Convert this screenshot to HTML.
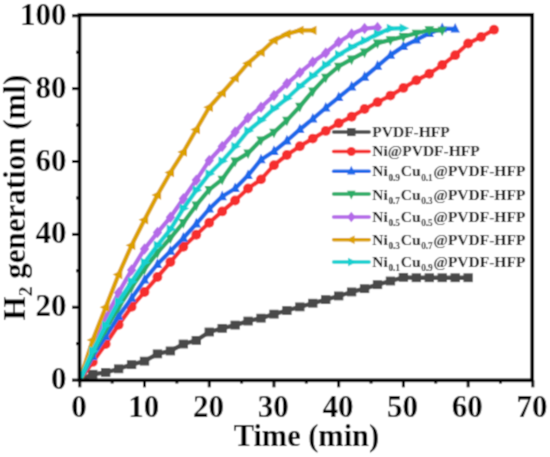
<!DOCTYPE html>
<html><head><meta charset="utf-8"><style>
html,body{margin:0;padding:0;background:#fff;width:550px;height:457px;overflow:hidden}
svg{display:block}
text{font-family:"Liberation Serif","Times New Roman",serif;font-weight:bold;fill:#000}
.tk{font-size:31px}
.ti{font-size:30px}
.ts{font-size:19.5px}
.yl{font-size:31px}
.lg{font-size:15.5px}
.sb{font-size:9.3px}
</style></head><body>
<svg width="550" height="457" viewBox="0 0 550 457">
<defs><filter id="soft" x="0" y="0" width="550" height="457" filterUnits="userSpaceOnUse"><feConvolveMatrix order="3" kernelMatrix="0.04 0.12 0.04 0.12 0.36 0.12 0.04 0.12 0.04" divisor="1" edgeMode="duplicate"/></filter></defs>
<g filter="url(#soft)">
<rect width="550" height="457" fill="#fff"/>
<defs><clipPath id="pc"><rect x="79.5" y="14.9" width="452.5" height="365.2"/></clipPath></defs>
<g clip-path="url(#pc)"><g fill="#4a4a4a">
<polyline points="79.80,380.10 92.74,374.27 105.69,372.45 118.63,368.81 131.58,364.62 144.52,361.16 157.46,353.87 170.41,350.96 183.35,344.03 196.30,340.39 209.24,332.01 222.18,328.37 235.13,325.09 248.07,321.08 261.02,318.17 273.96,314.16 286.90,310.52 299.85,306.88 312.79,303.23 325.74,299.59 338.68,295.95 351.62,291.94 364.57,288.66 377.51,284.65 390.46,281.01 403.40,277.37 416.34,277.73 429.29,277.73 442.23,277.73 455.18,277.73 468.12,277.73" fill="none" stroke="#4a4a4a" stroke-width="4.3" stroke-linejoin="round" stroke-linecap="round"/>
<rect x="75.12" y="375.68" width="9.36" height="8.84"/>
<rect x="88.06" y="369.85" width="9.36" height="8.84"/>
<rect x="101.01" y="368.03" width="9.36" height="8.84"/>
<rect x="113.95" y="364.39" width="9.36" height="8.84"/>
<rect x="126.90" y="360.20" width="9.36" height="8.84"/>
<rect x="139.84" y="356.74" width="9.36" height="8.84"/>
<rect x="152.78" y="349.45" width="9.36" height="8.84"/>
<rect x="165.73" y="346.54" width="9.36" height="8.84"/>
<rect x="178.67" y="339.61" width="9.36" height="8.84"/>
<rect x="191.62" y="335.97" width="9.36" height="8.84"/>
<rect x="204.56" y="327.59" width="9.36" height="8.84"/>
<rect x="217.50" y="323.95" width="9.36" height="8.84"/>
<rect x="230.45" y="320.67" width="9.36" height="8.84"/>
<rect x="243.39" y="316.66" width="9.36" height="8.84"/>
<rect x="256.34" y="313.75" width="9.36" height="8.84"/>
<rect x="269.28" y="309.74" width="9.36" height="8.84"/>
<rect x="282.22" y="306.10" width="9.36" height="8.84"/>
<rect x="295.17" y="302.46" width="9.36" height="8.84"/>
<rect x="308.11" y="298.81" width="9.36" height="8.84"/>
<rect x="321.06" y="295.17" width="9.36" height="8.84"/>
<rect x="334.00" y="291.53" width="9.36" height="8.84"/>
<rect x="346.94" y="287.52" width="9.36" height="8.84"/>
<rect x="359.89" y="284.24" width="9.36" height="8.84"/>
<rect x="372.83" y="280.23" width="9.36" height="8.84"/>
<rect x="385.78" y="276.59" width="9.36" height="8.84"/>
<rect x="398.72" y="272.95" width="9.36" height="8.84"/>
<rect x="411.66" y="273.31" width="9.36" height="8.84"/>
<rect x="424.61" y="273.31" width="9.36" height="8.84"/>
<rect x="437.55" y="273.31" width="9.36" height="8.84"/>
<rect x="450.50" y="273.31" width="9.36" height="8.84"/>
<rect x="463.44" y="273.31" width="9.36" height="8.84"/>
</g>
<g fill="#f62f2f">
<polyline points="79.80,380.10 92.74,361.89 105.69,344.03 118.63,324.73 131.58,306.88 144.52,291.94 157.46,277.00 170.41,262.07 183.35,246.77 196.30,234.74 209.24,222.72 222.18,211.43 235.13,200.50 248.07,188.48 261.02,179.37 273.96,165.16 286.90,154.96 299.85,146.22 312.79,138.57 325.74,130.92 338.68,123.27 351.62,116.71 364.57,109.06 377.51,102.14 390.46,95.58 403.40,87.93 416.34,80.28 429.29,73.72 442.23,64.98 455.18,55.14 468.12,43.49 481.06,36.93 494.01,29.64" fill="none" stroke="#f62f2f" stroke-width="4.3" stroke-linejoin="round" stroke-linecap="round"/>
<circle cx="79.80" cy="380.10" r="4.94"/>
<circle cx="92.74" cy="361.89" r="4.94"/>
<circle cx="105.69" cy="344.03" r="4.94"/>
<circle cx="118.63" cy="324.73" r="4.94"/>
<circle cx="131.58" cy="306.88" r="4.94"/>
<circle cx="144.52" cy="291.94" r="4.94"/>
<circle cx="157.46" cy="277.00" r="4.94"/>
<circle cx="170.41" cy="262.07" r="4.94"/>
<circle cx="183.35" cy="246.77" r="4.94"/>
<circle cx="196.30" cy="234.74" r="4.94"/>
<circle cx="209.24" cy="222.72" r="4.94"/>
<circle cx="222.18" cy="211.43" r="4.94"/>
<circle cx="235.13" cy="200.50" r="4.94"/>
<circle cx="248.07" cy="188.48" r="4.94"/>
<circle cx="261.02" cy="179.37" r="4.94"/>
<circle cx="273.96" cy="165.16" r="4.94"/>
<circle cx="286.90" cy="154.96" r="4.94"/>
<circle cx="299.85" cy="146.22" r="4.94"/>
<circle cx="312.79" cy="138.57" r="4.94"/>
<circle cx="325.74" cy="130.92" r="4.94"/>
<circle cx="338.68" cy="123.27" r="4.94"/>
<circle cx="351.62" cy="116.71" r="4.94"/>
<circle cx="364.57" cy="109.06" r="4.94"/>
<circle cx="377.51" cy="102.14" r="4.94"/>
<circle cx="390.46" cy="95.58" r="4.94"/>
<circle cx="403.40" cy="87.93" r="4.94"/>
<circle cx="416.34" cy="80.28" r="4.94"/>
<circle cx="429.29" cy="73.72" r="4.94"/>
<circle cx="442.23" cy="64.98" r="4.94"/>
<circle cx="455.18" cy="55.14" r="4.94"/>
<circle cx="468.12" cy="43.49" r="4.94"/>
<circle cx="481.06" cy="36.93" r="4.94"/>
<circle cx="494.01" cy="29.64" r="4.94"/>
</g>
<g fill="#1a68ea">
<polyline points="79.80,380.10 92.74,356.42 105.69,336.38 118.63,316.35 131.58,298.13 144.52,279.92 157.46,264.25 170.41,251.14 183.35,238.02 196.30,223.82 209.24,208.88 222.18,196.49 235.13,188.48 248.07,175.36 261.02,159.70 273.96,151.32 286.90,140.75 299.85,129.46 312.79,118.90 325.74,107.97 338.68,97.40 351.62,86.84 364.57,77.00 377.51,66.07 390.46,55.14 403.40,46.40 416.34,39.84 429.29,33.29 442.23,28.55 455.18,28.91" fill="none" stroke="#1a68ea" stroke-width="4.3" stroke-linejoin="round" stroke-linecap="round"/>
<polygon points="79.80,374.12 84.48,383.74 75.12,383.74"/>
<polygon points="92.74,350.44 97.42,360.06 88.06,360.06"/>
<polygon points="105.69,330.40 110.37,340.02 101.01,340.02"/>
<polygon points="118.63,310.37 123.31,319.99 113.95,319.99"/>
<polygon points="131.58,292.15 136.26,301.77 126.90,301.77"/>
<polygon points="144.52,273.94 149.20,283.56 139.84,283.56"/>
<polygon points="157.46,258.27 162.14,267.89 152.78,267.89"/>
<polygon points="170.41,245.16 175.09,254.78 165.73,254.78"/>
<polygon points="183.35,232.04 188.03,241.66 178.67,241.66"/>
<polygon points="196.30,217.84 200.98,227.46 191.62,227.46"/>
<polygon points="209.24,202.90 213.92,212.52 204.56,212.52"/>
<polygon points="222.18,190.51 226.86,200.13 217.50,200.13"/>
<polygon points="235.13,182.50 239.81,192.12 230.45,192.12"/>
<polygon points="248.07,169.38 252.75,179.00 243.39,179.00"/>
<polygon points="261.02,153.72 265.70,163.34 256.34,163.34"/>
<polygon points="273.96,145.34 278.64,154.96 269.28,154.96"/>
<polygon points="286.90,134.77 291.58,144.39 282.22,144.39"/>
<polygon points="299.85,123.48 304.53,133.10 295.17,133.10"/>
<polygon points="312.79,112.92 317.47,122.54 308.11,122.54"/>
<polygon points="325.74,101.99 330.42,111.61 321.06,111.61"/>
<polygon points="338.68,91.42 343.36,101.04 334.00,101.04"/>
<polygon points="351.62,80.86 356.30,90.48 346.94,90.48"/>
<polygon points="364.57,71.02 369.25,80.64 359.89,80.64"/>
<polygon points="377.51,60.09 382.19,69.71 372.83,69.71"/>
<polygon points="390.46,49.16 395.14,58.78 385.78,58.78"/>
<polygon points="403.40,40.42 408.08,50.04 398.72,50.04"/>
<polygon points="416.34,33.86 421.02,43.48 411.66,43.48"/>
<polygon points="429.29,27.31 433.97,36.93 424.61,36.93"/>
<polygon points="442.23,22.57 446.91,32.19 437.55,32.19"/>
<polygon points="455.18,22.93 459.86,32.55 450.50,32.55"/>
</g>
<g fill="#2aac66">
<polyline points="79.80,380.10 92.74,352.78 105.69,329.10 118.63,307.24 131.58,287.20 144.52,268.99 157.46,252.60 170.41,238.02 183.35,222.72 196.30,205.24 209.24,189.57 222.18,179.37 235.13,161.16 248.07,153.14 261.02,140.03 273.96,132.38 286.90,120.35 299.85,106.51 312.79,91.21 325.74,77.37 338.68,66.44 351.62,59.15 364.57,52.23 377.51,43.12 390.46,39.84 403.40,36.57 416.34,33.29 429.29,30.01 442.23,30.37" fill="none" stroke="#2aac66" stroke-width="4.3" stroke-linejoin="round" stroke-linecap="round"/>
<polygon points="79.80,386.08 84.48,376.46 75.12,376.46"/>
<polygon points="92.74,358.76 97.42,349.14 88.06,349.14"/>
<polygon points="105.69,335.08 110.37,325.46 101.01,325.46"/>
<polygon points="118.63,313.22 123.31,303.60 113.95,303.60"/>
<polygon points="131.58,293.18 136.26,283.56 126.90,283.56"/>
<polygon points="144.52,274.97 149.20,265.35 139.84,265.35"/>
<polygon points="157.46,258.58 162.14,248.96 152.78,248.96"/>
<polygon points="170.41,244.00 175.09,234.38 165.73,234.38"/>
<polygon points="183.35,228.70 188.03,219.08 178.67,219.08"/>
<polygon points="196.30,211.22 200.98,201.60 191.62,201.60"/>
<polygon points="209.24,195.55 213.92,185.93 204.56,185.93"/>
<polygon points="222.18,185.35 226.86,175.73 217.50,175.73"/>
<polygon points="235.13,167.14 239.81,157.52 230.45,157.52"/>
<polygon points="248.07,159.12 252.75,149.50 243.39,149.50"/>
<polygon points="261.02,146.01 265.70,136.39 256.34,136.39"/>
<polygon points="273.96,138.36 278.64,128.74 269.28,128.74"/>
<polygon points="286.90,126.33 291.58,116.71 282.22,116.71"/>
<polygon points="299.85,112.49 304.53,102.87 295.17,102.87"/>
<polygon points="312.79,97.19 317.47,87.57 308.11,87.57"/>
<polygon points="325.74,83.35 330.42,73.73 321.06,73.73"/>
<polygon points="338.68,72.42 343.36,62.80 334.00,62.80"/>
<polygon points="351.62,65.13 356.30,55.51 346.94,55.51"/>
<polygon points="364.57,58.21 369.25,48.59 359.89,48.59"/>
<polygon points="377.51,49.10 382.19,39.48 372.83,39.48"/>
<polygon points="390.46,45.82 395.14,36.20 385.78,36.20"/>
<polygon points="403.40,42.55 408.08,32.93 398.72,32.93"/>
<polygon points="416.34,39.27 421.02,29.65 411.66,29.65"/>
<polygon points="429.29,35.99 433.97,26.37 424.61,26.37"/>
<polygon points="442.23,36.35 446.91,26.73 437.55,26.73"/>
</g>
<g fill="#b46ae8">
<polyline points="79.80,380.10 92.74,347.31 105.69,318.17 118.63,292.67 131.58,270.08 144.52,248.95 157.46,232.56 170.41,217.26 183.35,198.68 196.30,180.10 209.24,160.43 222.18,146.58 235.13,132.01 248.07,117.80 261.02,107.24 273.96,95.58 286.90,83.56 299.85,72.63 312.79,62.07 325.74,52.96 338.68,42.03 351.62,34.02 364.57,28.55 377.51,27.46" fill="none" stroke="#b46ae8" stroke-width="4.3" stroke-linejoin="round" stroke-linecap="round"/>
<polygon points="79.80,374.38 84.48,380.10 79.80,385.82 75.12,380.10"/>
<polygon points="92.74,341.59 97.42,347.31 92.74,353.03 88.06,347.31"/>
<polygon points="105.69,312.45 110.37,318.17 105.69,323.89 101.01,318.17"/>
<polygon points="118.63,286.95 123.31,292.67 118.63,298.39 113.95,292.67"/>
<polygon points="131.58,264.36 136.26,270.08 131.58,275.80 126.90,270.08"/>
<polygon points="144.52,243.23 149.20,248.95 144.52,254.67 139.84,248.95"/>
<polygon points="157.46,226.84 162.14,232.56 157.46,238.28 152.78,232.56"/>
<polygon points="170.41,211.54 175.09,217.26 170.41,222.98 165.73,217.26"/>
<polygon points="183.35,192.96 188.03,198.68 183.35,204.40 178.67,198.68"/>
<polygon points="196.30,174.38 200.98,180.10 196.30,185.82 191.62,180.10"/>
<polygon points="209.24,154.71 213.92,160.43 209.24,166.15 204.56,160.43"/>
<polygon points="222.18,140.86 226.86,146.58 222.18,152.30 217.50,146.58"/>
<polygon points="235.13,126.29 239.81,132.01 235.13,137.73 230.45,132.01"/>
<polygon points="248.07,112.08 252.75,117.80 248.07,123.52 243.39,117.80"/>
<polygon points="261.02,101.52 265.70,107.24 261.02,112.96 256.34,107.24"/>
<polygon points="273.96,89.86 278.64,95.58 273.96,101.30 269.28,95.58"/>
<polygon points="286.90,77.84 291.58,83.56 286.90,89.28 282.22,83.56"/>
<polygon points="299.85,66.91 304.53,72.63 299.85,78.35 295.17,72.63"/>
<polygon points="312.79,56.35 317.47,62.07 312.79,67.79 308.11,62.07"/>
<polygon points="325.74,47.24 330.42,52.96 325.74,58.68 321.06,52.96"/>
<polygon points="338.68,36.31 343.36,42.03 338.68,47.75 334.00,42.03"/>
<polygon points="351.62,28.30 356.30,34.02 351.62,39.74 346.94,34.02"/>
<polygon points="364.57,22.83 369.25,28.55 364.57,34.27 359.89,28.55"/>
<polygon points="377.51,21.74 382.19,27.46 377.51,33.18 372.83,27.46"/>
</g>
<g fill="#dca000">
<polyline points="79.80,380.10 92.74,340.03 105.69,307.24 118.63,274.45 131.58,245.31 144.52,219.81 157.46,195.04 170.41,172.45 183.35,152.05 196.30,129.46 209.24,107.24 222.18,93.03 235.13,78.10 248.07,63.16 261.02,52.23 273.96,40.21 286.90,34.02 299.85,30.37 312.79,30.37" fill="none" stroke="#dca000" stroke-width="4.3" stroke-linejoin="round" stroke-linecap="round"/>
<polygon points="73.82,380.10 83.44,375.42 83.44,384.78"/>
<polygon points="86.76,340.03 96.38,335.35 96.38,344.71"/>
<polygon points="99.71,307.24 109.33,302.56 109.33,311.92"/>
<polygon points="112.65,274.45 122.27,269.77 122.27,279.13"/>
<polygon points="125.60,245.31 135.22,240.63 135.22,249.99"/>
<polygon points="138.54,219.81 148.16,215.13 148.16,224.49"/>
<polygon points="151.48,195.04 161.10,190.36 161.10,199.72"/>
<polygon points="164.43,172.45 174.05,167.77 174.05,177.13"/>
<polygon points="177.37,152.05 186.99,147.37 186.99,156.73"/>
<polygon points="190.32,129.46 199.94,124.78 199.94,134.14"/>
<polygon points="203.26,107.24 212.88,102.56 212.88,111.92"/>
<polygon points="216.20,93.03 225.82,88.35 225.82,97.71"/>
<polygon points="229.15,78.10 238.77,73.42 238.77,82.78"/>
<polygon points="242.09,63.16 251.71,58.48 251.71,67.84"/>
<polygon points="255.04,52.23 264.66,47.55 264.66,56.91"/>
<polygon points="267.98,40.21 277.60,35.53 277.60,44.89"/>
<polygon points="280.92,34.02 290.54,29.34 290.54,38.70"/>
<polygon points="293.87,30.37 303.49,25.69 303.49,35.05"/>
<polygon points="306.81,30.37 316.43,25.69 316.43,35.05"/>
</g>
<g fill="#12d0d0">
<polyline points="79.80,380.10 92.74,350.96 105.69,325.46 118.63,301.78 131.58,281.74 144.52,262.43 157.46,245.31 170.41,229.28 183.35,208.51 196.30,190.30 209.24,173.91 222.18,161.16 235.13,146.58 248.07,130.92 261.02,120.35 273.96,108.70 286.90,98.50 299.85,86.47 312.79,75.91 325.74,64.98 338.68,54.78 351.62,47.13 364.57,40.57 377.51,34.02 390.46,28.55 403.40,28.19" fill="none" stroke="#12d0d0" stroke-width="4.3" stroke-linejoin="round" stroke-linecap="round"/>
<polygon points="85.78,380.10 76.16,375.42 76.16,384.78"/>
<polygon points="98.72,350.96 89.10,346.28 89.10,355.64"/>
<polygon points="111.67,325.46 102.05,320.78 102.05,330.14"/>
<polygon points="124.61,301.78 114.99,297.10 114.99,306.46"/>
<polygon points="137.56,281.74 127.94,277.06 127.94,286.42"/>
<polygon points="150.50,262.43 140.88,257.75 140.88,267.11"/>
<polygon points="163.44,245.31 153.82,240.63 153.82,249.99"/>
<polygon points="176.39,229.28 166.77,224.60 166.77,233.96"/>
<polygon points="189.33,208.51 179.71,203.83 179.71,213.19"/>
<polygon points="202.28,190.30 192.66,185.62 192.66,194.98"/>
<polygon points="215.22,173.91 205.60,169.23 205.60,178.59"/>
<polygon points="228.16,161.16 218.54,156.48 218.54,165.84"/>
<polygon points="241.11,146.58 231.49,141.90 231.49,151.26"/>
<polygon points="254.05,130.92 244.43,126.24 244.43,135.60"/>
<polygon points="267.00,120.35 257.38,115.67 257.38,125.03"/>
<polygon points="279.94,108.70 270.32,104.02 270.32,113.38"/>
<polygon points="292.88,98.50 283.26,93.82 283.26,103.18"/>
<polygon points="305.83,86.47 296.21,81.79 296.21,91.15"/>
<polygon points="318.77,75.91 309.15,71.23 309.15,80.59"/>
<polygon points="331.72,64.98 322.10,60.30 322.10,69.66"/>
<polygon points="344.66,54.78 335.04,50.10 335.04,59.46"/>
<polygon points="357.60,47.13 347.98,42.45 347.98,51.81"/>
<polygon points="370.55,40.57 360.93,35.89 360.93,45.25"/>
<polygon points="383.49,34.02 373.87,29.34 373.87,38.70"/>
<polygon points="396.44,28.55 386.82,23.87 386.82,33.23"/>
<polygon points="409.38,28.19 399.76,23.51 399.76,32.87"/>
</g></g>
<g fill="#4a4a4a">
<line x1="333.6" y1="132.1" x2="369.2" y2="132.1" stroke="#4a4a4a" stroke-width="3.5" stroke-linecap="round"/>
<rect x="347.07" y="128.10" width="8.46" height="7.99"/>
</g>
<text class="lg" x="372.3" y="136.9">PVDF-HFP</text>
<g fill="#f62f2f">
<line x1="333.6" y1="151.5" x2="369.2" y2="151.5" stroke="#f62f2f" stroke-width="3.5" stroke-linecap="round"/>
<circle cx="351.30" cy="151.50" r="4.46"/>
</g>
<text class="lg" x="372.3" y="156.4">Ni@PVDF-HFP</text>
<g fill="#1a68ea">
<line x1="333.6" y1="171.2" x2="369.2" y2="171.2" stroke="#1a68ea" stroke-width="3.5" stroke-linecap="round"/>
<polygon points="351.30,165.79 355.53,174.49 347.07,174.49"/>
</g>
<text class="lg" x="372.3" y="176.4">Ni<tspan class="sb" dx="0.6" dy="4.2">0.9</tspan><tspan dx="0.7" dy="-4.2">Cu</tspan><tspan class="sb" dx="0.6" dy="4.2">0.1</tspan><tspan dx="0.7" dy="-4.2">@PVDF-HFP</tspan></text>
<g fill="#2aac66">
<line x1="333.6" y1="194.1" x2="369.2" y2="194.1" stroke="#2aac66" stroke-width="3.5" stroke-linecap="round"/>
<polygon points="351.30,199.50 355.53,190.81 347.07,190.81"/>
</g>
<text class="lg" x="372.3" y="199.7">Ni<tspan class="sb" dx="0.6" dy="4.2">0.7</tspan><tspan dx="0.7" dy="-4.2">Cu</tspan><tspan class="sb" dx="0.6" dy="4.2">0.3</tspan><tspan dx="0.7" dy="-4.2">@PVDF-HFP</tspan></text>
<g fill="#b46ae8">
<line x1="333.6" y1="217.0" x2="369.2" y2="217.0" stroke="#b46ae8" stroke-width="3.5" stroke-linecap="round"/>
<polygon points="351.30,211.83 355.53,217.00 351.30,222.17 347.07,217.00"/>
</g>
<text class="lg" x="372.3" y="221.9">Ni<tspan class="sb" dx="0.6" dy="4.2">0.5</tspan><tspan dx="0.7" dy="-4.2">Cu</tspan><tspan class="sb" dx="0.6" dy="4.2">0.5</tspan><tspan dx="0.7" dy="-4.2">@PVDF-HFP</tspan></text>
<g fill="#dca000">
<line x1="333.6" y1="239.7" x2="369.2" y2="239.7" stroke="#dca000" stroke-width="3.5" stroke-linecap="round"/>
<polygon points="345.90,239.70 354.59,235.47 354.59,243.93"/>
</g>
<text class="lg" x="372.3" y="244.5">Ni<tspan class="sb" dx="0.6" dy="4.2">0.3</tspan><tspan dx="0.7" dy="-4.2">Cu</tspan><tspan class="sb" dx="0.6" dy="4.2">0.7</tspan><tspan dx="0.7" dy="-4.2">@PVDF-HFP</tspan></text>
<g fill="#12d0d0">
<line x1="333.6" y1="262.1" x2="369.2" y2="262.1" stroke="#12d0d0" stroke-width="3.5" stroke-linecap="round"/>
<polygon points="356.70,262.10 348.01,257.87 348.01,266.33"/>
</g>
<text class="lg" x="372.3" y="267.1">Ni<tspan class="sb" dx="0.6" dy="4.2">0.1</tspan><tspan dx="0.7" dy="-4.2">Cu</tspan><tspan class="sb" dx="0.6" dy="4.2">0.9</tspan><tspan dx="0.7" dy="-4.2">@PVDF-HFP</tspan></text>
<rect x="79.5" y="14.8" width="452.70000000000005" height="365.5" fill="none" stroke="#000" stroke-width="3.7"/>
<line x1="79.80" y1="380.3" x2="79.80" y2="387.3" stroke="#000" stroke-width="3"/>
<text class="tk" x="79.00" y="416.6" text-anchor="middle">0</text>
<line x1="144.52" y1="380.3" x2="144.52" y2="387.3" stroke="#000" stroke-width="3"/>
<text class="tk" x="143.72" y="416.6" text-anchor="middle">10</text>
<line x1="209.24" y1="380.3" x2="209.24" y2="387.3" stroke="#000" stroke-width="3"/>
<text class="tk" x="208.44" y="416.6" text-anchor="middle">20</text>
<line x1="273.96" y1="380.3" x2="273.96" y2="387.3" stroke="#000" stroke-width="3"/>
<text class="tk" x="273.16" y="416.6" text-anchor="middle">30</text>
<line x1="338.68" y1="380.3" x2="338.68" y2="387.3" stroke="#000" stroke-width="3"/>
<text class="tk" x="337.88" y="416.6" text-anchor="middle">40</text>
<line x1="403.40" y1="380.3" x2="403.40" y2="387.3" stroke="#000" stroke-width="3"/>
<text class="tk" x="402.60" y="416.6" text-anchor="middle">50</text>
<line x1="468.12" y1="380.3" x2="468.12" y2="387.3" stroke="#000" stroke-width="3"/>
<text class="tk" x="467.32" y="416.6" text-anchor="middle">60</text>
<line x1="532.84" y1="380.3" x2="532.84" y2="387.3" stroke="#000" stroke-width="3"/>
<text class="tk" x="532.04" y="416.6" text-anchor="middle">70</text>
<line x1="112.16" y1="380.3" x2="112.16" y2="383.5" stroke="#000" stroke-width="3"/>
<line x1="176.88" y1="380.3" x2="176.88" y2="383.5" stroke="#000" stroke-width="3"/>
<line x1="241.60" y1="380.3" x2="241.60" y2="383.5" stroke="#000" stroke-width="3"/>
<line x1="306.32" y1="380.3" x2="306.32" y2="383.5" stroke="#000" stroke-width="3"/>
<line x1="371.04" y1="380.3" x2="371.04" y2="383.5" stroke="#000" stroke-width="3"/>
<line x1="435.76" y1="380.3" x2="435.76" y2="383.5" stroke="#000" stroke-width="3"/>
<line x1="500.48" y1="380.3" x2="500.48" y2="383.5" stroke="#000" stroke-width="3"/>
<line x1="79.5" y1="380.10" x2="72.0" y2="380.10" stroke="#000" stroke-width="3"/>
<text class="tk" x="66.6" y="389.10" text-anchor="end">0</text>
<line x1="79.5" y1="307.24" x2="72.0" y2="307.24" stroke="#000" stroke-width="3"/>
<text class="tk" x="66.6" y="316.24" text-anchor="end">20</text>
<line x1="79.5" y1="234.38" x2="72.0" y2="234.38" stroke="#000" stroke-width="3"/>
<text class="tk" x="66.6" y="243.38" text-anchor="end">40</text>
<line x1="79.5" y1="161.52" x2="72.0" y2="161.52" stroke="#000" stroke-width="3"/>
<text class="tk" x="66.6" y="170.52" text-anchor="end">60</text>
<line x1="79.5" y1="88.66" x2="72.0" y2="88.66" stroke="#000" stroke-width="3"/>
<text class="tk" x="66.6" y="97.66" text-anchor="end">80</text>
<line x1="79.5" y1="15.80" x2="72.0" y2="15.80" stroke="#000" stroke-width="3"/>
<text class="tk" x="66.6" y="24.80" text-anchor="end">100</text>
<line x1="79.5" y1="343.67" x2="76.1" y2="343.67" stroke="#000" stroke-width="3"/>
<line x1="79.5" y1="270.81" x2="76.1" y2="270.81" stroke="#000" stroke-width="3"/>
<line x1="79.5" y1="197.95" x2="76.1" y2="197.95" stroke="#000" stroke-width="3"/>
<line x1="79.5" y1="125.09" x2="76.1" y2="125.09" stroke="#000" stroke-width="3"/>
<line x1="79.5" y1="52.23" x2="76.1" y2="52.23" stroke="#000" stroke-width="3"/>
<text class="ti" transform="translate(306.4,446) scale(0.95,1)" text-anchor="middle" style="font-size:32px">Time (min)</text>
<text class="ti yl" transform="translate(24.6,320.4) rotate(-90)">H<tspan class="ts" dy="7">2</tspan><tspan dy="-7"> generation (ml)</tspan></text>
</g>
</svg>
</body></html>
